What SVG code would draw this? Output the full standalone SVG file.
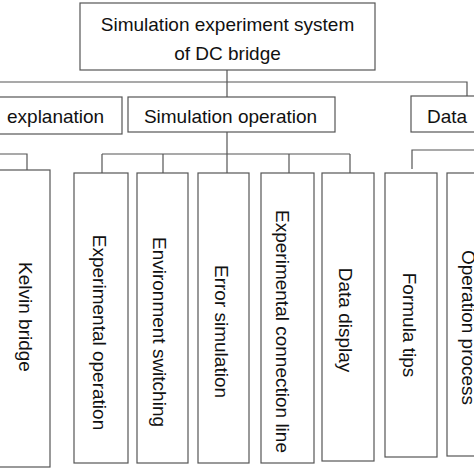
<svg xmlns="http://www.w3.org/2000/svg" width="474" height="474" viewBox="0 0 474 474">
<style>
.box{fill:#fff;stroke:#555;stroke-width:1.2}
.ln{fill:none;stroke:#555;stroke-width:1.2}
text{font-family:"Liberation Sans",Arial,sans-serif;font-size:19px;fill:#111}
.m{text-anchor:middle}
</style>
<rect width="474" height="474" fill="#fff"/>
<g id="connectors">
<path class="ln" d="M227,70V97M0,82H467V96M227,132V154M102,154H350M102,154V173M163,154V173M227,154V173M289,154V173M350,154V173M0,154H27V170M412,169V150H474"/>
</g>
<g id="root"><rect class="box" x="80" y="3" width="295" height="67"/>
<text class="m" x="227.5" y="31">Simulation experiment system</text>
<text class="m" x="227.5" y="60">of DC bridge</text></g>
<g id="explanation"><rect class="box" x="-5" y="97" width="127" height="37"/>
<text x="7" y="122.5">explanation</text></g>
<g id="simop"><rect class="box" x="128" y="97" width="207" height="35"/>
<text class="m" x="230.5" y="122.5">Simulation operation</text></g>
<g id="data"><rect class="box" x="411" y="96" width="80" height="36"/>
<text x="427" y="122.5">Data</text></g>
<g id="kelvin"><rect class="box" x="-5" y="170" width="55" height="297"/>
<text class="m" transform="translate(19,317) rotate(90)">Kelvin bridge</text></g>
<g id="expop"><rect class="box" x="74" y="173" width="54" height="290"/>
<text class="m" transform="translate(92.5,332.5) rotate(90)">Experimental operation</text></g>
<g id="env"><rect class="box" x="137" y="173" width="51" height="290"/>
<text class="m" transform="translate(152.5,332) rotate(90)">Environment switching</text></g>
<g id="error"><rect class="box" x="198" y="173" width="51" height="290"/>
<text class="m" transform="translate(215,331.5) rotate(90)">Error simulation</text></g>
<g id="expconn"><rect class="box" x="261" y="173" width="53" height="290"/>
<text class="m" transform="translate(276,331.5) rotate(90)">Experimental connection line</text></g>
<g id="datadisp"><rect class="box" x="322" y="173" width="52" height="288"/>
<text class="m" transform="translate(338.5,320) rotate(90)">Data display</text></g>
<g id="formula"><rect class="box" x="385" y="173" width="52" height="284"/>
<text class="m" transform="translate(402.5,325) rotate(90)">Formula tips</text></g>
<g id="opproc"><rect class="box" x="447" y="173" width="40" height="283"/>
<text class="m" transform="translate(461.5,327.5) rotate(90)">Operation process</text></g>
</svg>
